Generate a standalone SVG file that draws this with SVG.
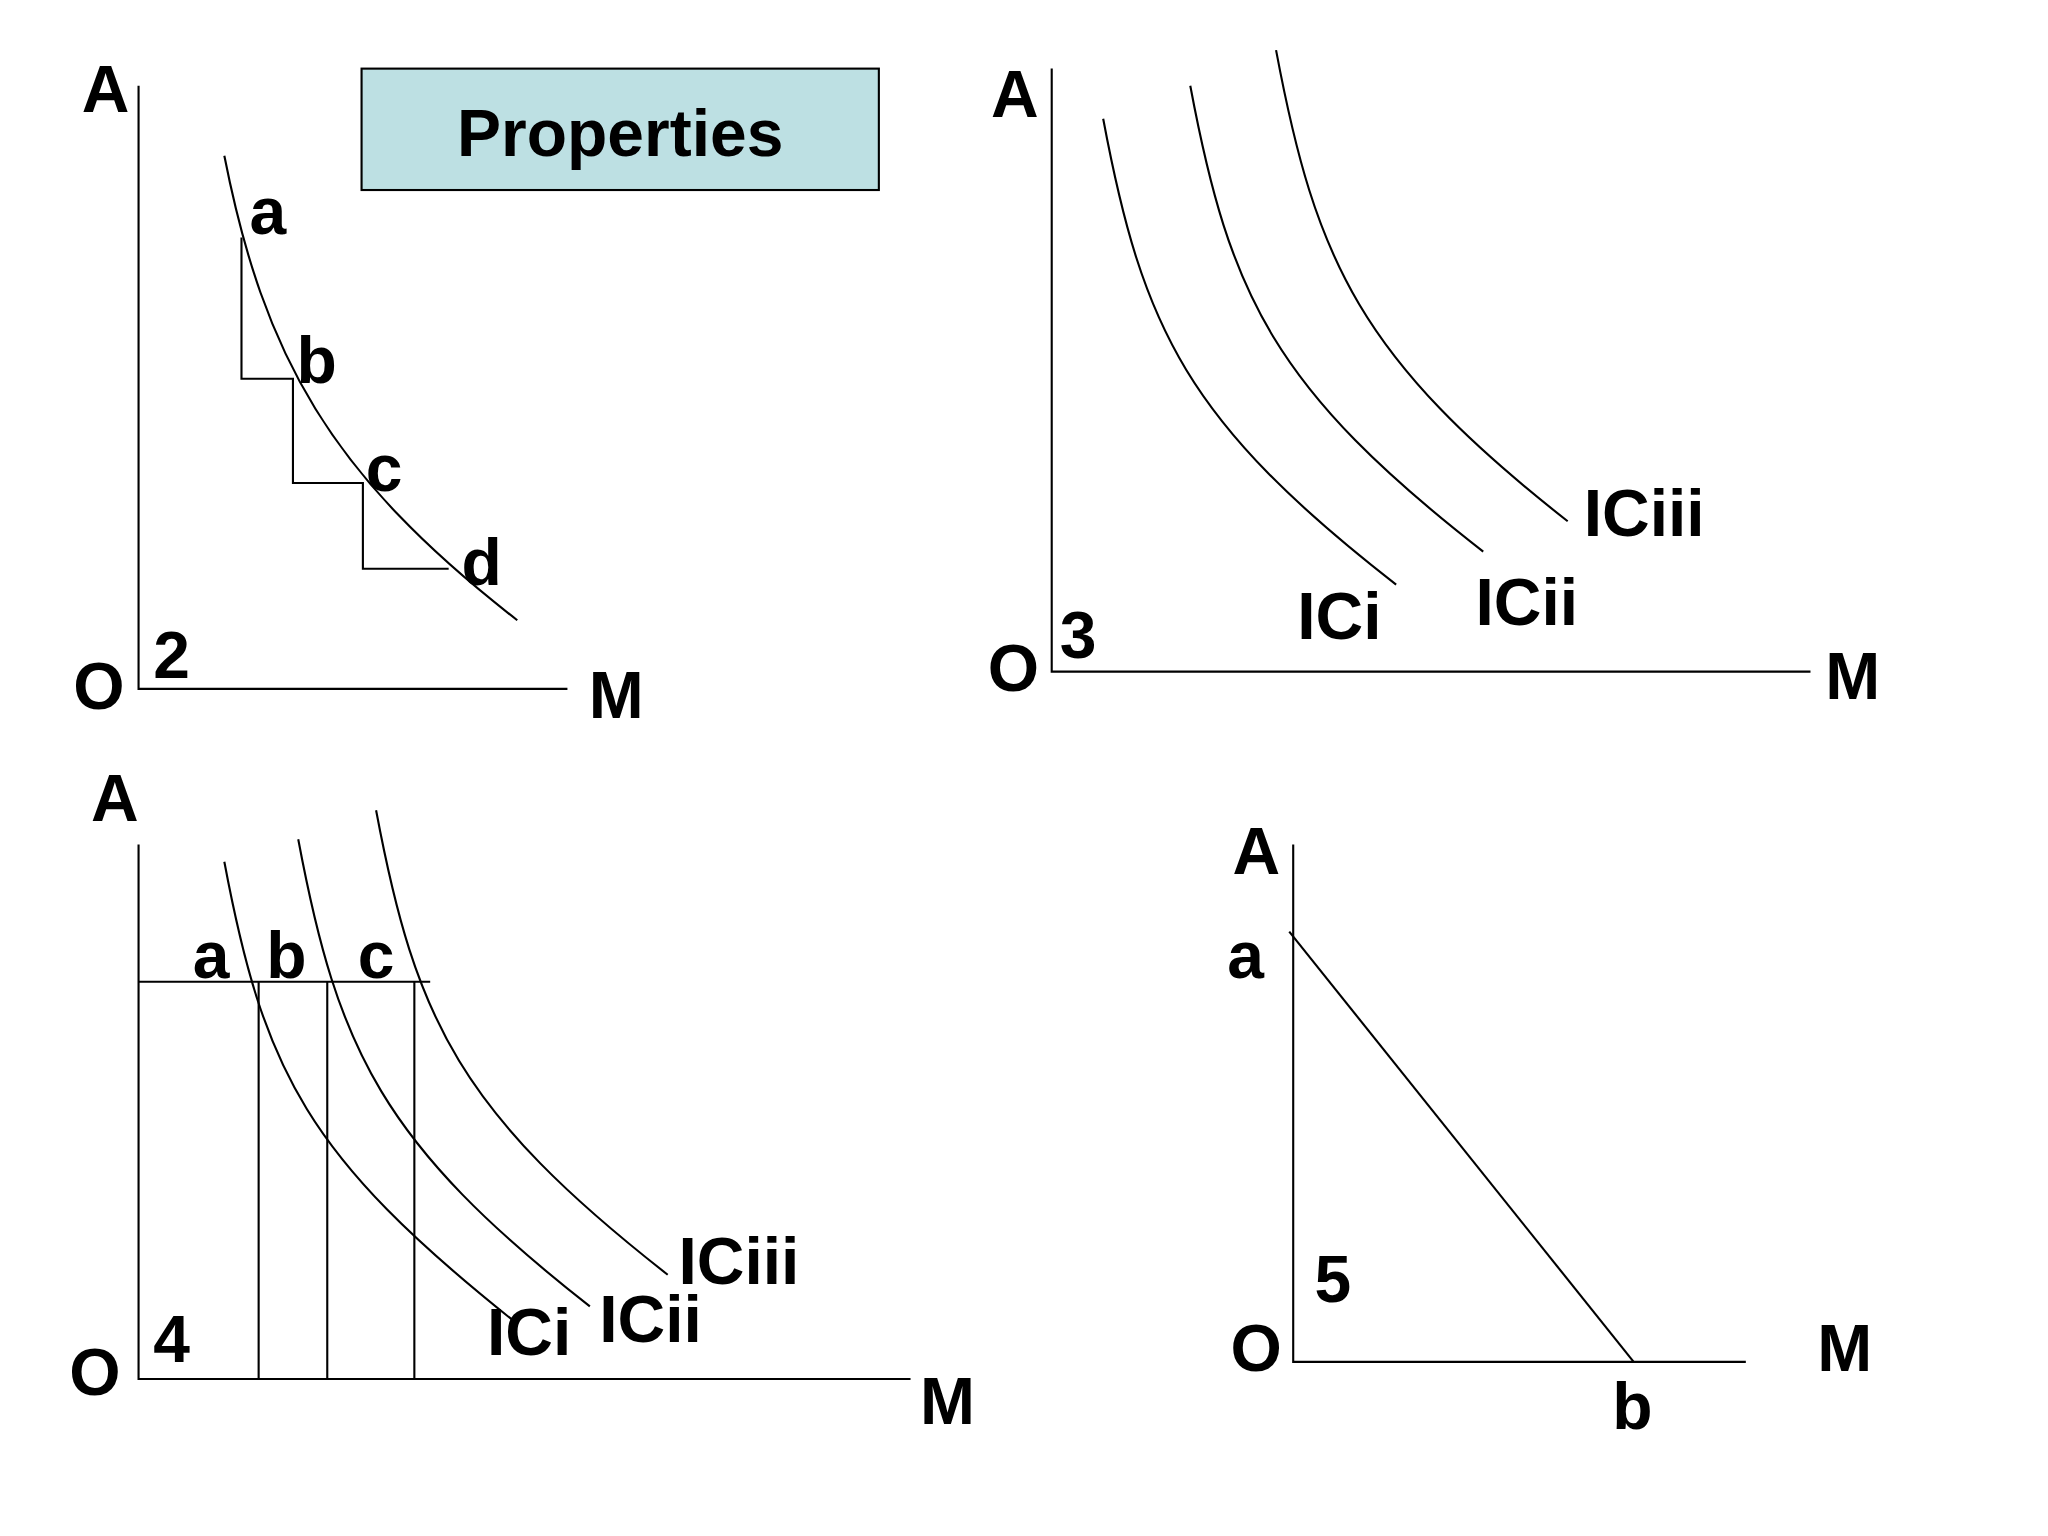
<svg xmlns="http://www.w3.org/2000/svg" width="2048" height="1536" viewBox="0 0 2048 1536">
<style>
.l{stroke:#000;stroke-width:1.6;fill:none}
.t{font-family:"Liberation Sans",Arial,sans-serif;font-weight:bold;font-size:50px;text-anchor:middle;fill:#000}
</style>
<rect width="2048" height="1536" fill="#fff"/>
<g transform="scale(1.3196)">
<g id="title"><rect x="274" y="52" width="392" height="92" fill="#bde0e3" stroke="#000" stroke-width="1.6"/><text class="t" x="470" y="118">Properties</text></g>
<g id="panel2">
<path class="l" d="M105,65V522H430"/>
<path class="l" d="M170,118 C200,270 250,360 392,470"/>
<path class="l" d="M183,180V287H222V366H275V431H340"/>
<text class="t" x="80" y="85">A</text><text class="t" x="75" y="537">O</text><text class="t" x="130" y="514">2</text><text class="t" x="467" y="544">M</text>
<text class="t" x="203" y="177">a</text><text class="t" x="240" y="290">b</text><text class="t" x="291" y="372">c</text><text class="t" x="365" y="443">d</text>
</g>
<g id="panel3">
<path class="l" d="M797,52V509H1372"/>
<path class="l" d="M836,90 C866,250 900,320 1058,443"/>
<path class="l" d="M902,65 C932,225 966,295 1124,418"/>
<path class="l" d="M967,38 C997,198 1031,272 1188,395"/>
<text class="t" x="769" y="89">A</text><text class="t" x="768" y="524">O</text><text class="t" x="817" y="499">3</text><text class="t" x="1404" y="530">M</text>
<text class="t" x="1015" y="484">ICi</text><text class="t" x="1157" y="474">ICii</text><text class="t" x="1246" y="406">ICiii</text>
</g>
<g id="panel4">
<path class="l" d="M105,640V1045H690"/>
<path class="l" d="M105,744H326M196,744V1045M248,744V1045M314,744V1045"/>
<path class="l" d="M170,653 C200,813 234,877 388,1000"/>
<path class="l" d="M226,636 C256,796 290,867 447,990"/>
<path class="l" d="M285,614 C315,774 349,843 506,966"/>
<text class="t" x="87" y="622">A</text><text class="t" x="72" y="1057">O</text><text class="t" x="130" y="1032">4</text><text class="t" x="718" y="1079">M</text>
<text class="t" x="160" y="741">a</text><text class="t" x="217" y="741">b</text><text class="t" x="285" y="741">c</text>
<text class="t" x="401" y="1027">ICi</text><text class="t" x="493" y="1017">ICii</text><text class="t" x="560" y="973">ICiii</text>
</g>
<g id="panel5">
<path class="l" d="M980,640V1032H1323"/>
<path class="l" d="M977,706L1238,1032"/>
<text class="t" x="952" y="662">A</text><text class="t" x="944" y="741">a</text><text class="t" x="1010" y="987">5</text><text class="t" x="952" y="1039">O</text><text class="t" x="1398" y="1039">M</text><text class="t" x="1237" y="1083">b</text>
</g>
</g>
</svg>
